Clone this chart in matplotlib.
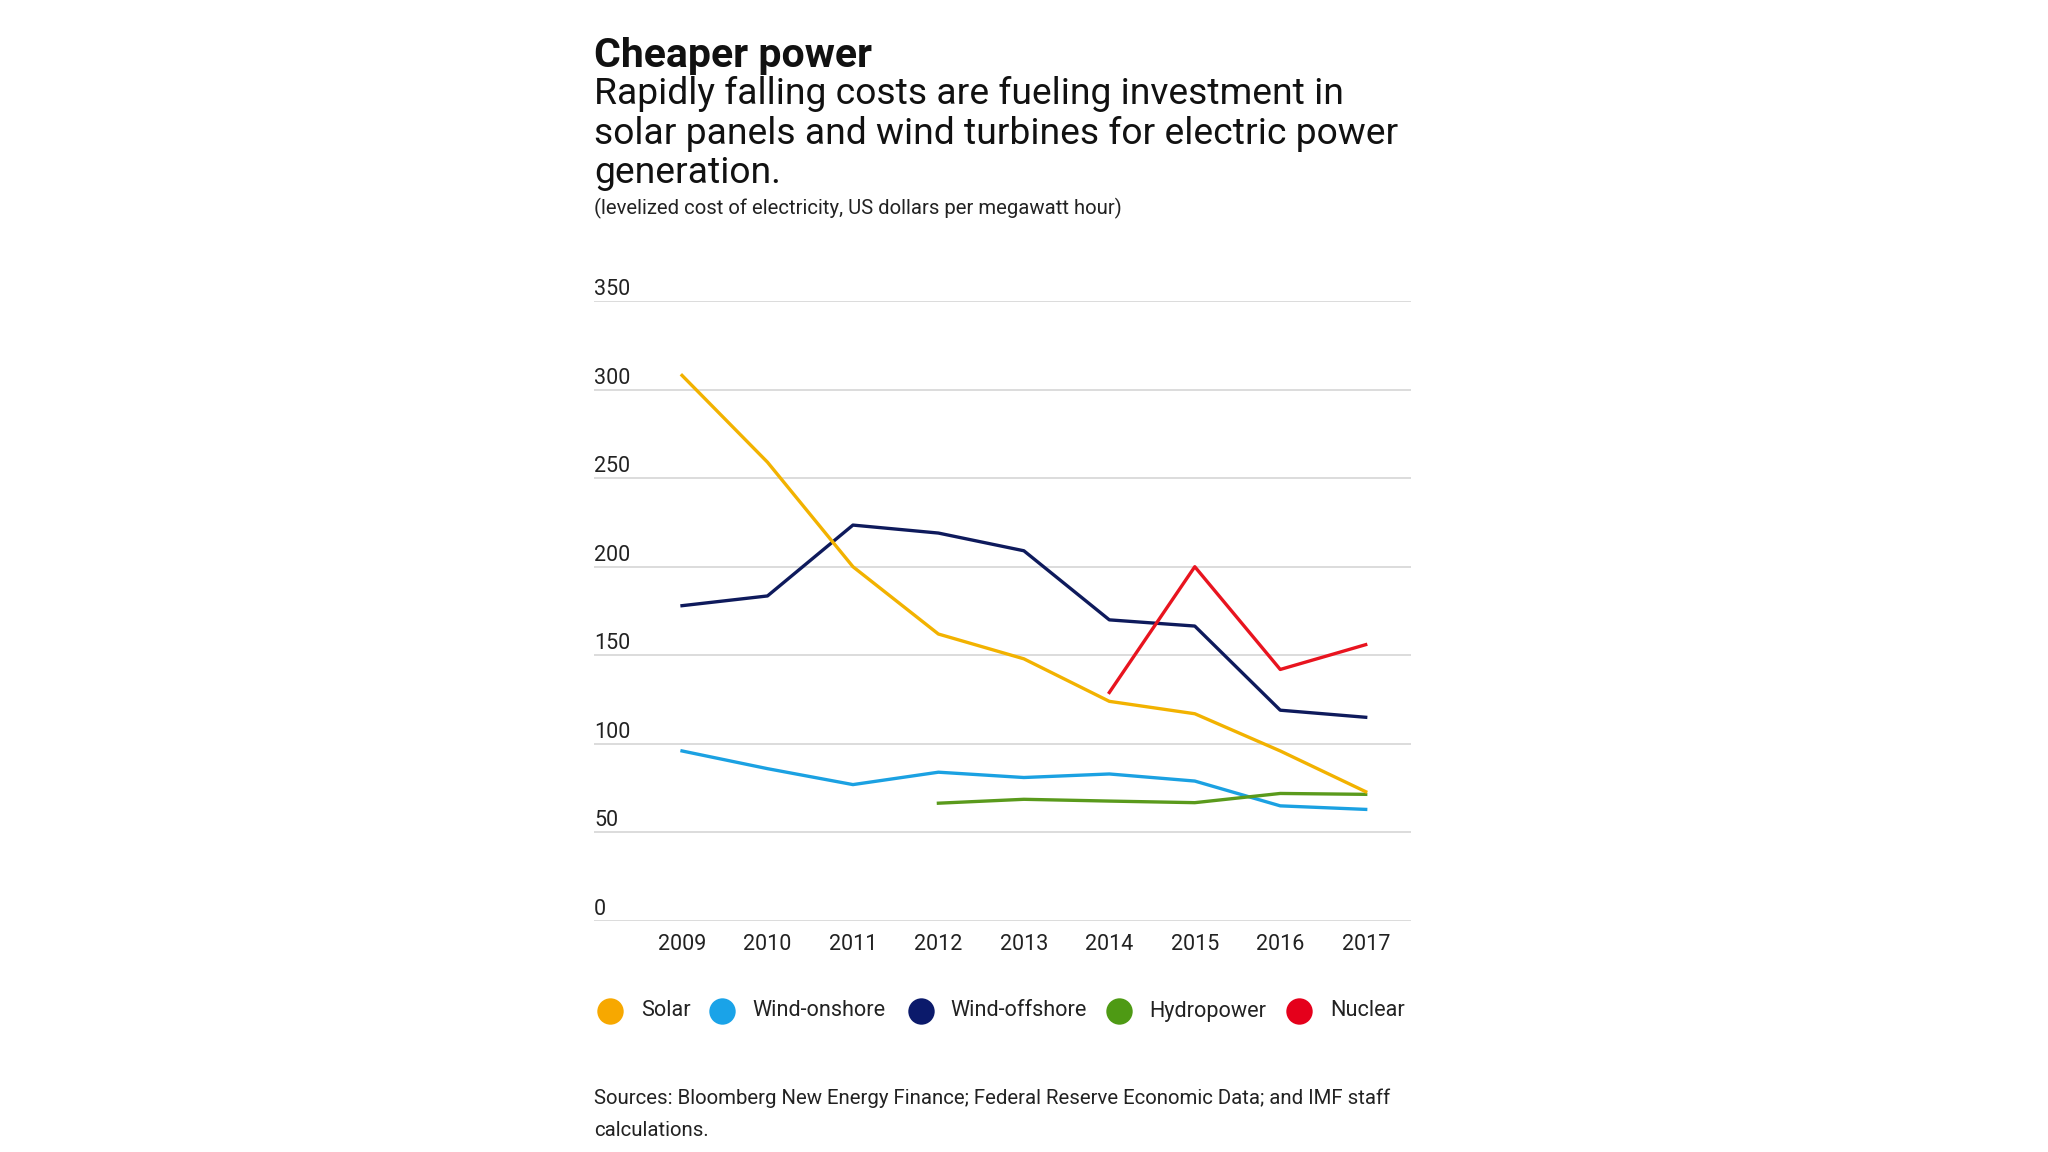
import matplotlib
matplotlib.use("Agg")
import matplotlib.pyplot as plt
from matplotlib.lines import Line2D
import numpy as np

plt.rcParams['font.family'] = ['Roboto', 'DejaVu Sans']

years = [2009, 2010, 2011, 2012, 2013, 2014, 2015, 2016, 2017]
solar = [308, 259, 200, 162, 148, 124, 117, 96, 73]
wind_onshore = [96, 86, 77, 84, 81, 83, 79, 65, 63]
wind_offshore = [178, 183.5, 223.5, 219, 209, 170, 166.5, 119, 115]
hydro_years = [2012, 2013, 2014, 2015, 2016, 2017]
hydropower = [66.5, 68.7, 67.7, 66.8, 72, 71.5]
nuclear_years = [2014, 2015, 2016, 2017]
nuclear = [129, 200, 142, 156]
yticks = [0, 50, 100, 150, 200, 250, 300, 350]
series_names = ["Solar", "Wind-onshore", "Wind-offshore", "Hydropower", "Nuclear"]
colors = ["#F2B200", "#1BA1E2", "#0E1A5C", "#5A9A1C", "#E8141F"]
legend_colors = ["#F7A800", "#1AA3E8", "#0B1A6B", "#4E9A14", "#E5001B"]

W, H = 2048, 1152
fig = plt.figure(figsize=(W / 100, H / 100), dpi=100)
fig.patch.set_facecolor("white")

ax_left, ax_right = 594 / W, 1411 / W
ax_bottom, ax_top = 1 - 921 / H, 1 - 301 / H
ax = fig.add_axes([ax_left, ax_bottom, ax_right - ax_left, ax_top - ax_bottom])
ax.set_xlim(2007.97, 2017.53)
ax.set_ylim(0, 350)

for v in yticks:
    ax.axhline(v, color="#d2d2d2", lw=1.1, zorder=1)
    ax.annotate(str(v), xy=(0, v), xycoords=ax.get_yaxis_transform(),
                xytext=(0, 6), textcoords="offset pixels",
                ha="left", va="baseline", fontsize=15.5, color="#222222")

lw = 2.4
ax.plot(years, wind_onshore, color=colors[1], lw=lw, zorder=3, clip_on=False)
ax.plot(hydro_years, hydropower, color=colors[3], lw=lw, zorder=3, clip_on=False)
ax.plot(years, wind_offshore, color=colors[2], lw=lw, zorder=4, clip_on=False)
ax.plot(years, solar, color=colors[0], lw=lw, zorder=5, clip_on=False)
ax.plot(nuclear_years, nuclear, color=colors[4], lw=lw, zorder=6, clip_on=False)

ax.set_xticks(years)
ax.set_xticklabels([str(y) for y in years], fontsize=15.5, color="#222222")
ax.tick_params(axis="x", length=0, pad=9)
ax.set_yticks([])
for s in ax.spines.values():
    s.set_visible(False)

# Titles
fig.text(594 / W, 1 - 56 / H, "Cheaper power", fontsize=29.5, fontweight="bold",
         ha="left", va="center", color="#111111")
fig.text(594 / W, 1 - 76 / H,
         "Rapidly falling costs are fueling investment in\n"
         "solar panels and wind turbines for electric power\n"
         "generation.",
         fontsize=26.8, ha="left", va="top", linespacing=1.13, color="#111111")
fig.text(594 / W, 1 - 208 / H,
         "(levelized cost of electricity, US dollars per megawatt hour)",
         fontsize=14.6, ha="left", va="center", color="#222222")

# Legend
marker_x = [610, 722, 921, 1119, 1299]
text_x = [641, 752, 950, 1149, 1330]
ly = 1 - 1011 / H
for name, c, mx, tx in zip(series_names, legend_colors, marker_x, text_x):
    fig.add_artist(Line2D([mx / W], [ly], marker="o", markersize=19,
                          color=c, markeredgewidth=0, linestyle="None"))
    fig.text(tx / W, ly, name, fontsize=15.6, ha="left", va="center", color="#222222")

# Sources
fig.text(594 / W, 1 - 1098 / H,
         "Sources: Bloomberg New Energy Finance; Federal Reserve Economic Data; and IMF staff",
         fontsize=14.7, ha="left", va="center", color="#222222")
fig.text(594 / W, 1 - 1130 / H, "calculations.",
         fontsize=14.7, ha="left", va="center", color="#222222")

fig.savefig("out.png", dpi=100, facecolor="white")
